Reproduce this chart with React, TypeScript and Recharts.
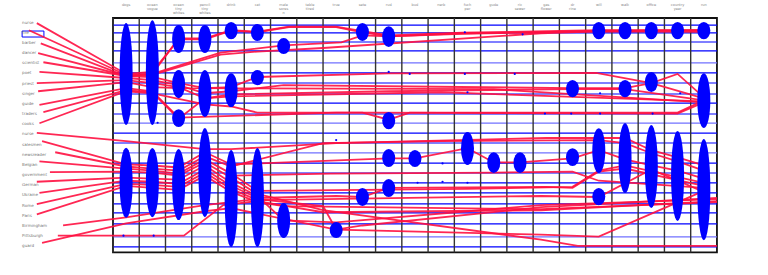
import { ComposedChart, Line, Scatter, XAxis, YAxis, ReferenceLine, ReferenceArea } from "recharts";

const W = 768;
const H = 275;
// x: column index (centres at integers), y: row index (centres at integers)
const X_MIN = -4.802;
const X_MAX = 24.444;
const Y_MIN = -2.271;
const Y_MAX = 24.769;
const ROW_PX = H / (Y_MAX - Y_MIN);

const colLabels = [
  ["dogs"], ["ocean", "vogue"], ["ocean", "tiny", "whites"], ["pencil", "tiny", "whites"], ["drink"], ["cat"],
  ["male", "sores", "n"], ["table", "tired"], ["true"], ["sete"], ["rud"], ["bud"], ["nerb"], ["fuch", "per"],
  ["gude"], ["ric", "sewer"], ["gas", "flower"], ["dr", "rine"], ["will"], ["walk"], ["office"],
  ["country", "year"], ["run"],
];

const rowLabels = [
  "nurse", "fire", "barber", "dancer", "scientist", "poet", "priest", "singer", "guide", "traders", "cooks",
  "nurse", "salesmen", "newsreader", "Belgian", "government", "German", "Ukraine", "Rome", "Paris",
  "Birmingham", "Pittsburgh", "guard",
];

const rowLines = [0.19, 0.97, 1.86, 2.74, 3.92, 4.9, 5.89, 6.97, 7.86, 8.94, 9.83, 10.81, 11.79, 12.77, 13.76, 14.74, 15.72, 16.7, 17.78, 18.67, 19.75, 21.03, 22.0];
const lightRows = [4, 10, 13, 21];

// [column, row centre, half height in rows]
const nodes: [number, number, number][] = [
  [0, 5.0, 5.0], [0, 15.7, 3.45],
  [1, 4.87, 5.16], [1, 15.68, 3.4],
  [2, 1.57, 1.38], [2, 6.0, 1.38], [2, 9.34, 0.88], [2, 15.88, 3.49],
  [3, 1.57, 1.38], [3, 6.93, 2.31], [3, 14.7, 4.38],
  [4, 0.74, 0.84], [4, 6.59, 1.67], [4, 17.26, 4.77],
  [5, 0.93, 0.84], [5, 5.36, 0.74], [5, 17.16, 4.87],
  [6, 2.26, 0.79], [6, 19.42, 1.72],
  [8, 20.35, 0.79],
  [9, 0.88, 0.88], [9, 17.1, 0.88],
  [10, 1.33, 1.03], [10, 9.59, 0.84], [10, 13.27, 0.88], [10, 16.22, 0.88],
  [11, 13.32, 0.84],
  [13, 12.34, 1.62],
  [14, 13.72, 1.03],
  [15, 13.72, 1.03],
  [17, 6.44, 0.84], [17, 13.18, 0.88],
  [18, 0.74, 0.84], [18, 12.54, 2.21], [18, 17.06, 0.84],
  [19, 0.74, 0.84], [19, 6.44, 0.84], [19, 13.27, 3.44],
  [20, 0.74, 0.84], [20, 5.8, 0.98], [20, 14.11, 4.08],
  [21, 0.74, 0.84], [21, 15.04, 4.42],
  [22, 0.74, 0.84], [22, 7.62, 2.7], [22, 16.37, 4.97],
];

const dots: [number, number][] = [
  [-0.1, 20.9], [1.05, 20.9], [1.2, 9.8], [11.1, 15.7], [12.05, 15.6], [13, 15.7], [12.05, 13.8], [8.0, 11.5],
  [18.05, 6.9], [15.95, 8.9], [16.95, 8.9], [18.05, 8.9], [20.05, 8.9], [21.1, 6.9],
  [12.9, 0.9], [15.1, 1.1], [10, 4.8], [10.8, 5.0], [12.9, 5.0], [14.8, 5.0], [13, 6.8],
];

const paths: [number, number][][] = [
  // upper group
  [[-3.4, 0], [0, 5.0], [1, 4.8], [2, 1.6], [3, 1.6], [4, 0.75], [5, 0.9], [6.2, 0.4], [8, 0.4], [9, 0.9], [10, 1.3], [12.8, 1.0], [15.8, 0.9], [18, 0.75], [22, 0.75]],
  [[-3.7, 0.7], [0, 5.1], [1, 5.0], [3.6, 2.9], [6, 2.2], [8.2, 1.9], [9, 1.2], [10, 1.3], [12.8, 1.05], [18, 0.8], [22, 0.85]],
  [[-3.25, 2], [0, 5.2], [1, 5.1], [3.6, 3.1], [5, 2.8], [7.5, 2.45], [15.8, 1.0], [18, 0.8], [22, 0.7]],
  [[-3.35, 2.95], [0, 5.2], [1, 5.0], [2, 1.5], [3, 1.5], [4, 0.7], [5, 0.85], [6.2, 0.35], [8, 0.35], [9, 0.8], [10, 1.2], [12.8, 0.95], [18, 0.7], [22, 0.7]],
  [[-3.15, 3.85], [0, 5.2], [1, 5.3], [2, 5.9], [3, 6.4], [4, 6.3], [5, 5.3], [10, 4.95], [17.9, 4.9], [20, 5.9], [22, 7.4]],
  [[-3.3, 4.8], [0, 5.4], [1, 5.6], [2, 6.1], [3, 6.9], [4, 6.7], [6, 6.1], [17, 6.4], [19, 6.4], [20, 5.9], [21, 5.0], [22, 7.3]],
  [[-3.4, 5.9], [0, 5.6], [1, 5.9], [2, 6.3], [3, 7.4], [4, 7.0], [10, 6.7], [17, 6.5], [19, 6.5], [22, 7.6]],
  [[-3.35, 6.7], [0, 5.8], [1, 6.3], [2, 6.4], [14, 6.5], [22, 7.8]],
  [[-3.3, 8.05], [0, 6.4], [1, 6.7], [2, 9.3], [8, 8.8], [9, 8.8], [10, 9.5], [10.8, 8.8], [21, 8.8], [22, 7.6]],
  [[-3.15, 8.75], [0, 6.6], [1, 6.8], [2, 9.4], [3, 7.4], [4, 7.2], [12, 6.8], [22, 7.7]],
  [[-3.3, 9.85], [0, 6.7], [1, 6.9], [3, 8.0], [4, 8.2], [5, 8.8], [9.5, 8.8], [21, 8.9], [22, 7.8]],
  // lower group
  [[-3.4, 10.8], [0, 11.6], [3, 12.4], [4, 12.4], [8, 11.8], [16, 11.3], [19, 11.3], [20, 12.5], [21, 13.2], [22, 14.0]],
  [[-3.2, 11.6], [0, 13.9], [1, 14.0], [2, 14.2], [3, 12.7], [4, 13.9], [10, 13.3], [11, 13.3], [13, 12.3], [14, 13.7], [15, 13.7], [17, 13.3], [18, 12.5], [19, 13.4], [20, 14.0], [21, 14.5], [22, 15.3]],
  [[-2.7, 12.7], [0, 14.1], [1, 14.3], [2, 14.5], [3, 13.1], [4, 14.1], [7.5, 11.8], [12, 11.6], [18, 11.5], [19, 11.8], [20, 12.8], [21, 13.6], [22, 14.5]],
  [[-3.3, 13.6], [0, 14.3], [1, 14.5], [2, 14.8], [3, 13.4], [4, 14.8], [5, 16.5], [13, 16.3], [17, 16.1], [18, 14.5], [19, 14.0], [22, 15.7]],
  [[-2.9, 14.65], [0, 14.6], [1, 14.7], [2, 15.0], [3, 13.7], [4, 15.2], [5, 16.8], [7.5, 18.4], [15.8, 21.3], [17.2, 21.9], [22.5, 21.9]],
  [[-3.4, 15.6], [0, 15.2], [1, 15.3], [2, 15.4], [3, 14.0], [4, 15.7], [5, 17.0], [6, 19.4], [8, 19.6], [15.8, 17.9], [22.5, 17.3]],
  [[-3.3, 16.7], [0, 15.5], [1, 15.6], [2, 15.8], [3, 14.4], [4, 16.0], [5, 17.2], [8, 17.0], [9, 17.1], [10, 16.2], [16, 16.1], [17, 16.2], [18, 14.6], [19, 14.3], [22, 16.0]],
  [[-3.4, 17.8], [0, 15.8], [1, 15.9], [2, 16.1], [3, 14.7], [4, 16.3], [5, 17.4], [15.8, 17.0], [18, 17.1], [20, 14.4], [22, 16.6]],
  [[-3.4, 18.8], [0, 16.0], [1, 16.2], [2, 16.4], [3, 15.0], [4, 16.6], [5, 17.6], [6, 18.0], [15.8, 18.3], [22.5, 17.6]],
  [[-2.4, 19.9], [0, 19.1], [3, 17.9], [5, 17.3], [7.5, 18.0], [8, 20.3], [15.8, 20.8], [18, 21.0], [22, 16.5]],
  [[-2.6, 20.9], [0, 20.9], [2.2, 20.9], [3.7, 17.9], [5, 17.5], [7.5, 18.6], [15.8, 18.4], [22.5, 17.5]],
  [[-3.2, 21.6], [0, 19.7], [3, 18.5], [4, 18.2], [8, 20.3], [9, 19.9], [15.8, 18.1], [22.5, 17.2]],
  [[4, 15.0], [7.8, 14.8], [14, 14.7], [17, 14.6], [18, 15.5], [22, 16.2]],
];

const RED = "#ff1040";
const BLUE = "#0000ff";

const nodeData = nodes.map(([x, y, h]) => ({ x, y, h }));
const dotData = dots.map(([x, y]) => ({ x, y }));
const rowLabelData = rowLabels.map((name, i) => ({ x: -3.96, y: i - 0.1, name }));
// one point per text line of each column heading
const colLabelData = colLabels.flatMap((lines, i) => lines.map((name, k) => ({ x: i, y: -1.8 + k * 0.37, name })));

const NodeShape = (props: any) => (
  <ellipse cx={props.cx} cy={props.cy} rx={6.5} ry={props.payload.h * ROW_PX} fill={BLUE} />
);

const DotShape = (props: any) => <circle cx={props.cx} cy={props.cy} r={1.1} fill={BLUE} />;

const RowLabel = (props: any) => (
  <text x={props.cx} y={props.cy + 1.5} fontSize={4.1} fill="#777" fontFamily="DejaVu Sans">
    {props.payload.name}
  </text>
);

const ColLabel = (props: any) => (
  <text x={props.cx} y={props.cy + 1.3} fontSize={3.5} fill="#888" fontFamily="DejaVu Sans" textAnchor="middle">
    {props.payload.name}
  </text>
);

export default function App() {
  return (
    <div style={{ width: W, height: H, background: "#fff", position: "absolute", left: 0, top: 0 }}>
      <ComposedChart width={W} height={H} margin={{ top: 0, right: 0, bottom: 0, left: 0 }}>
        <XAxis type="number" scale="linear" dataKey="x" domain={[X_MIN, X_MAX]} ticks={[X_MIN, X_MAX]} hide />
        <YAxis type="number" scale="linear" dataKey="y" domain={[Y_MIN, Y_MAX]} ticks={[Y_MIN, Y_MAX]} reversed hide />
        {rowLines.map((r, i) => (
          <ReferenceLine
            key={"h" + i}
            segment={[{ x: -0.5, y: r }, { x: 22.5, y: r }]}
            stroke={lightRows.includes(i) ? "#7070ff" : BLUE}
            strokeWidth={1.2}
          />
        ))}
        {colLabels.map((_, i) => (
          <ReferenceLine
            key={"v" + i}
            segment={[{ x: i - 0.5, y: -0.5 }, { x: i - 0.5, y: 22.55 }]}
            stroke="#333"
            strokeWidth={1.4}
          />
        ))}
        <ReferenceArea x1={-0.5} x2={22.5} y1={-0.5} y2={22.55} fill="none" stroke="#111" strokeWidth={1.8} />
        <ReferenceArea x1={-3.96} x2={-3.13} y1={0.78} y2={1.37} fill="none" stroke={BLUE} strokeWidth={1} />
        <Scatter data={nodeData} dataKey="y" shape={NodeShape} isAnimationActive={false} />
        <Scatter data={dotData} dataKey="y" shape={DotShape} isAnimationActive={false} />
        {paths.map((p, i) => (
          <Line
            key={"p" + i}
            data={p.map(([x, y]) => ({ x, y }))}
            dataKey="y"
            type="linear"
            stroke={RED}
            strokeWidth={1.8}
            strokeOpacity={0.9}
            dot={false}
            activeDot={false}
            isAnimationActive={false}
          />
        ))}
        <Scatter data={rowLabelData} dataKey="y" shape={RowLabel} isAnimationActive={false} />
        <Scatter data={colLabelData} dataKey="y" shape={ColLabel} isAnimationActive={false} />
      </ComposedChart>
    </div>
  );
}
